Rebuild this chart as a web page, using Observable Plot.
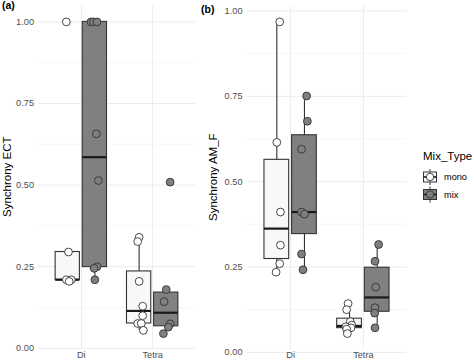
<!DOCTYPE html>
<html><head><meta charset="utf-8">
<script src="https://cdn.jsdelivr.net/npm/d3@7"></script>
<script src="https://cdn.jsdelivr.net/npm/@observablehq/plot@0.6"></script>
<style>
html,body{margin:0;padding:0;background:#fff;}
#wrap{position:relative;width:474px;height:361px;overflow:hidden;font-family:"Liberation Sans",Arial,sans-serif;}
.panel{position:absolute;top:0;}
.tag{position:absolute;font-weight:bold;font-size:10.5px;color:#000;}
.ytitle{position:absolute;font-size:11.5px;color:#000;white-space:nowrap;transform-origin:0 0;transform:rotate(-90deg);}
</style></head><body><div id="wrap"></div>
<script>
// ---- data ----
const categories = ["Di", "Tetra"];
const mixTypes = ["mono", "mix"];
const yMajorTicks = [0, 0.25, 0.5, 0.75, 1];
const yMinorTicks = [0.125, 0.375, 0.625, 0.875];

// panel (a): Synchrony ECT
const ectDiMono = [1.0, 0.295, 0.21, 0.21, 0.205];
const ectDiMonoJit = [-0.02, 0.01, -0.02, 0.05, 0.02];
const ectDiMix = [1.0, 1.0, 1.0, 0.657, 0.514, 0.25, 0.245, 0.21];
const ectDiMixJit = [-0.055, -0.02, 0.03, 0.02, 0.05, 0.03, -0.01, 0.0];
const ectTetraMono = [0.34, 0.327, 0.205, 0.129, 0.1, 0.076, 0.076, 0.055];
const ectTetraMonoJit = [0.0, -0.02, 0.0, 0.05, 0.05, -0.02, 0.03, 0.06];
const ectTetraMix = [0.509, 0.18, 0.143, 0.075, 0.065, 0.045];
const ectTetraMixJit = [0.055, 0.0, -0.03, 0.055, 0.03, -0.04];

// panel (b): Synchrony AM_F
const amfDiMono = [0.968, 0.615, 0.411, 0.314, 0.26, 0.235];
const amfDiMonoJit = [0.04, 0.0, 0.05, 0.05, 0.04, -0.01];
const amfDiMix = [0.751, 0.677, 0.595, 0.411, 0.405, 0.288, 0.242];
const amfDiMixJit = [0.03, 0.04, -0.04, -0.04, 0.0, -0.04, -0.02];
const amfTetraMono = [0.143, 0.125, 0.09, 0.08, 0.075, 0.072, 0.068, 0.055];
const amfTetraMonoJit = [-0.02, -0.04, 0.01, 0.03, -0.05, 0.02, -0.04, -0.03];
const amfTetraMix = [0.316, 0.267, 0.191, 0.131, 0.115, 0.072];
const amfTetraMixJit = [0.02, -0.03, -0.02, -0.03, -0.035, -0.03];

// ---- helpers ----
const DODGE = 0.19, HALF = 0.17;
const fillFor = t => t === "mono" ? "#f8f8f8" : "#808080";
const dotFill = t => t === "mono" ? "#ffffff" : "#7f7f7f";

function buildGroups(list) {
  return list.map(([cat, type, values, jit]) => ({cat, type, values, jit,
    x: categories.indexOf(cat) + 1 + (type === "mono" ? -DODGE : DODGE)}));
}
function stats(g) {
  const s = g.values.slice().sort(d3.ascending);
  const q1 = d3.quantile(s, 0.25), med = d3.quantile(s, 0.5), q3 = d3.quantile(s, 0.75);
  const iqr = q3 - q1;
  const lo = d3.min(s.filter(v => v >= q1 - 1.5 * iqr));
  const hi = d3.max(s.filter(v => v <= q3 + 1.5 * iqr));
  return {type: g.type, x: g.x, q1, med, q3, lo, hi};
}
function points(groups) {
  return groups.flatMap(g => g.values.map((v, i) => ({type: g.type, v, x: g.x + g.jit[i]})));
}

function panel(groups, width, marginLeft, marginRight) {
  const st = groups.map(stats);
  const pts = points(groups);
  const [mn, mx] = d3.extent(pts, d => d.v);
  const pad = (mx - mn) * 0.05;
  return Plot.plot({
    width, height: 361,
    marginLeft, marginRight, marginTop: 5.8, marginBottom: 12.3,
    style: {fontFamily: '"Liberation Sans", Arial, sans-serif', background: "transparent", overflow: "visible"},
    x: {domain: [0.4, 2.6]},
    y: {domain: [mn - pad, mx + pad]},
    marks: [
      Plot.ruleY(yMinorTicks, {stroke: "#f1f1f1", strokeWidth: 0.6}),
      Plot.ruleY(yMajorTicks, {stroke: "#ebebeb", strokeWidth: 1}),
      Plot.ruleX([1, 2], {stroke: "#ebebeb", strokeWidth: 1}),
      Plot.axisY(yMajorTicks, {tickSize: 0, tickPadding: 4.5, fontSize: 9.2, color: "#4d4d4d", label: null, tickFormat: d3.format(".2f")}),
      Plot.axisX([1, 2], {tickSize: 0, tickPadding: 2.5, fontSize: 9.2, color: "#4d4d4d", label: null, tickFormat: d => categories[d - 1]}),
      Plot.ruleX(st, {x: "x", y1: "lo", y2: "hi", stroke: "#333333", strokeWidth: 1.1}),
      Plot.rect(st, {x1: d => d.x - HALF, x2: d => d.x + HALF, y1: "q1", y2: "q3", fill: d => fillFor(d.type), stroke: "#333333", strokeWidth: 1.1}),
      Plot.ruleY(st, {x1: d => d.x - HALF, x2: d => d.x + HALF, y: "med", stroke: "#1a1a1a", strokeWidth: 2.2}),
      Plot.dot(pts, {x: "x", y: "v", r: 3.9, fill: d => dotFill(d.type), stroke: "#333333", strokeWidth: 0.9})
    ]
  });
}

const groupsA = buildGroups([
  ["Di", "mono", ectDiMono, ectDiMonoJit], ["Di", "mix", ectDiMix, ectDiMixJit],
  ["Tetra", "mono", ectTetraMono, ectTetraMonoJit], ["Tetra", "mix", ectTetraMix, ectTetraMixJit]]);
const groupsB = buildGroups([
  ["Di", "mono", amfDiMono, amfDiMonoJit], ["Di", "mix", amfDiMix, amfDiMixJit],
  ["Tetra", "mono", amfTetraMono, amfTetraMonoJit], ["Tetra", "mix", amfTetraMix, amfTetraMixJit]]);

const wrap = document.getElementById("wrap");
const pA = panel(groupsA, 200, 38, 5);
pA.classList.add("panel"); pA.style.left = "0px";
wrap.appendChild(pA);
const pB = panel(groupsB, 210, 46.5, 3.5);
pB.classList.add("panel"); pB.style.left = "200px";
wrap.appendChild(pB);

function addText(cls, txt, left, top) {
  const d = document.createElement("div");
  d.className = cls; d.textContent = txt;
  d.style.left = left + "px"; d.style.top = top + "px";
  wrap.appendChild(d);
  return d;
}
addText("tag", "(a)", 2, -1);
addText("tag", "(b)", 201, 3);
const tA = addText("ytitle", "Synchrony ECT", 1, 0);
const tB = addText("ytitle", "Synchrony AM_F", 207, 0);
// center rotated titles vertically on the panel
[tA, tB].forEach(t => { const w = t.getBoundingClientRect().height; t.style.top = (177 + w / 2) + "px"; });

// ---- legend ----
const ns = "http://www.w3.org/2000/svg";
const leg = document.createElementNS(ns, "svg");
leg.setAttribute("width", 60); leg.setAttribute("height", 70);
leg.style.position = "absolute"; leg.style.left = "418px"; leg.style.top = "146px";
leg.style.fontFamily = '"Liberation Sans", Arial, sans-serif';
let html = `<text x="5" y="14" font-size="11.5" fill="#000">Mix_Type</text>`;
mixTypes.forEach((t, i) => {
  const cy = 31 + i * 17.5, cx = 12;
  html += `<line x1="${cx}" x2="${cx}" y1="${cy - 8}" y2="${cy + 8}" stroke="#333" stroke-width="1"/>`;
  html += `<rect x="${cx - 6.5}" y="${cy - 5}" width="13" height="10" fill="${fillFor(t)}" stroke="#333" stroke-width="1"/>`;
  html += `<line x1="${cx - 6.5}" x2="${cx + 6.5}" y1="${cy}" y2="${cy}" stroke="#1a1a1a" stroke-width="1.6"/>`;
  html += `<circle cx="${cx}" cy="${cy}" r="3.7" fill="${dotFill(t)}" stroke="#333" stroke-width="0.9"/>`;
  html += `<text x="26" y="${cy + 3.2}" font-size="9.2" fill="#000">${t}</text>`;
});
leg.innerHTML = html;
wrap.appendChild(leg);
</script></body></html>
